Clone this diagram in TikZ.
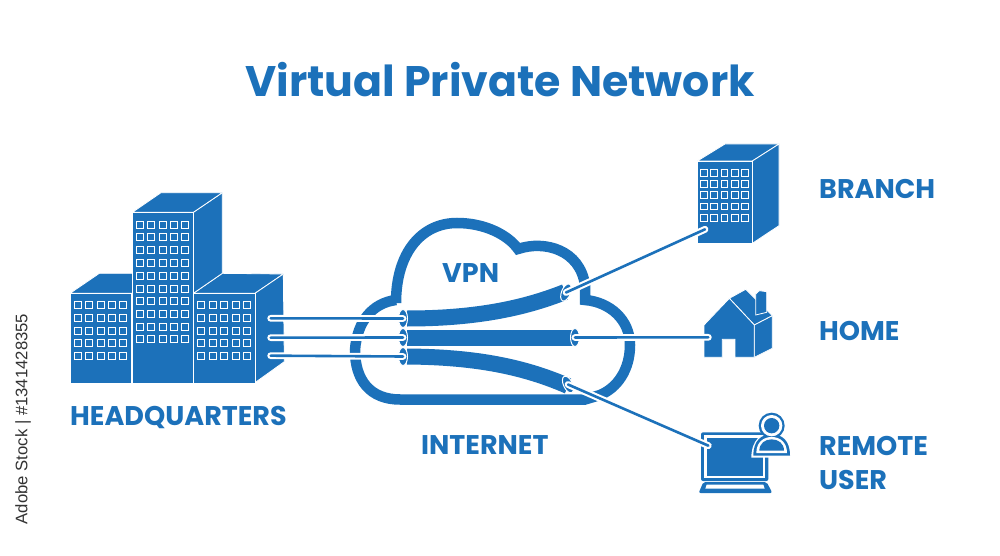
\documentclass[tikz,border=0pt]{standalone}
\usepackage{fontspec}
\setmainfont{Poppins}
\newfontfamily\sidefont{Liberation Sans}
\usetikzlibrary{shapes.geometric}
\definecolor{vpnblue}{HTML}{1C71BA}
\definecolor{sidegrey}{HTML}{333333}
\tikzset{
  solidpart/.style={fill=vpnblue,draw=white,line width=0.8pt,line join=miter},
  winbox/.style={draw=white,line width=1pt,fill=none},
  labeltext/.style={text=vpnblue,font=\bfseries\fontsize{27}{27}\selectfont,inner sep=0pt},
  cloudline/.style={draw=vpnblue,line width=10.5pt,line join=miter},
  tube/.style={draw=vpnblue,line width=16pt},
  capnode/.style={ellipse,fill=vpnblue,draw=white,line width=1pt,minimum width=9pt,minimum height=18pt,inner sep=0pt},
  cable/.style={draw=white,double=vpnblue,line width=2.1pt,double distance=2.6pt,line cap=round},
}
\newcommand{\winrow}[4]{% x0, pitch, y, half size
  \foreach \i in {0,...,4}{\draw[winbox] ({#1+\i*#2-#4},{#3-#4}) rectangle ({#1+\i*#2+#4},{#3+#4});}}
\begin{document}
\begin{tikzpicture}[x=1pt,y=-1pt]
\useasboundingbox (0,0) rectangle (1000,556);
\fill[white] (0,0) rectangle (1000,556);

\node[text=vpnblue,font=\bfseries\fontsize{42.7}{43}\selectfont,inner sep=0pt] (title) at (500,80) {Virtual Private Network};
\node[text=sidegrey,font=\sidefont\fontsize{16.7}{17}\selectfont,rotate=90,inner sep=0pt] (side) at (23,419) {Adobe Stock | \#1341428355};

% cloud
\draw[cloudline] (396,303)
  .. controls (396,252) and (422,223) .. (457,223)
  .. controls (485,223) and (508,235) .. (518,249)
  .. controls (545,240) and (580,250) .. (585,285)
  -- (585,300)
  .. controls (610,302) and (630,320) .. (630,345)
  .. controls (630,370) and (617,388) .. (600,395)
  -- (585,399.5) -- (400,399.5)
  .. controls (370,399.5) and (355,380) .. (355,350)
  .. controls (357,322) and (372,303) .. (396,300);

% tubes
\draw[tube] (407,318.5) .. controls (470,318.5) and (520,310) .. (565,292);
\draw[tube] (407,337.5) -- (574,337.5);
\draw[tube] (407,356.5) .. controls (470,357) and (520,365) .. (568,386);

% tube caps
\node[capnode] (capLa) at (403,318.5) {};
\node[capnode] (capLb) at (403,337.5) {};
\node[capnode] (capLc) at (403,356.5) {};
\node[capnode,rotate=-22] (capT) at (566,292.5) {};
\node[capnode] (capM) at (575,337.5) {};
\node[capnode,rotate=25] (capB) at (568,384.5) {};

% headquarters
\begin{scope}[shift={(50,180)},scale=1/3]
  \draw[solidpart] (60,340) -- (148,280) -- (260,280) -- (260,340) -- cycle;
  \draw[solidpart] (430,340) -- (517,280) -- (700,282) -- (615,340) -- cycle;
  \draw[solidpart] (615,340) -- (700,282) -- (703,545) -- (615,608) -- cycle;
  \draw[solidpart] (430,97) -- (517,38) -- (517,280) -- (430,340) -- cycle;
  \draw[solidpart] (247,97) -- (333,38) -- (517,38) -- (430,97) -- cycle;
  \draw[solidpart] (60,340) rectangle (245,610);
  \draw[solidpart] (430,340) rectangle (615,610);
  \draw[solidpart] (247,97) rectangle (430,610);
  \foreach \r in {375,413,452,490,528}{\winrow{84}{34}{\r}{10.5}}
  \foreach \r in {375,413,452,490,528}{\winrow{453}{34.5}{\r}{10.5}}
  \foreach \r in {134,172,210,249,287,326,364,402,440,478}{\winrow{270}{33.75}{\r}{10.5}}
  \coordinate (hqA) at (662,415);
  \coordinate (hqB) at (662,473);
  \coordinate (hqC) at (662,527);
\end{scope}

% branch
\begin{scope}[shift={(680,135)},scale=1/3]
  \draw[solidpart] (52,78) -- (135,27) -- (297,27) -- (217,78) -- cycle;
  \draw[solidpart] (217,78) -- (297,27) -- (297,272) -- (217,325) -- cycle;
  \draw[solidpart] (52,78) rectangle (217,325);
  \foreach \r in {115,148,181,215,250}{\winrow{72}{30.8}{\r}{10}}
  \coordinate (branchEnd) at (75,283);
\end{scope}

% home
\begin{scope}[shift={(690,280)},scale=1/3]
  \draw[solidpart] (118,55) -- (167,28) -- (247,107) -- (193,135) -- cycle;
  \draw[solidpart] (193,135) -- (247,107) -- (247,205) -- (193,232) -- cycle;
  \draw[solidpart] (42,135) -- (118,55) -- (193,135) -- (193,232) -- (135,232) -- (135,178) -- (97,178) -- (97,232) -- (42,232) -- cycle;
  \draw[solidpart] (197,105) -- (197,42) -- (208,32) -- (230,35) -- (230,97) -- cycle;
  \coordinate (homeEnd) at (55,172);
\end{scope}

% remote user
\begin{scope}[shift={(690,405)},scale=1/3]
  \fill[vpnblue,rounded corners=2pt] (33,82) rectangle (235,228);
  \fill[white] (42,91) rectangle (226,220);
  \fill[vpnblue] (50,98) rectangle (220,213);
  \fill[vpnblue,rounded corners=2pt] (40,231) -- (230,231) -- (247,264) -- (26,264) -- cycle;
  \fill[white] (50,239) -- (220,239) -- (224,251) -- (46,251) -- cycle;
  % person
  \fill[white] (184,158) .. controls (184,105) and (215,82) .. (245,82) .. controls (275,82) and (306,105) .. (306,158) -- cycle;
  \fill[vpnblue] (190,152) .. controls (190,105) and (215,88) .. (245,88) .. controls (275,88) and (300,105) .. (300,152) -- cycle;
  \fill[vpnblue] (245,62) circle (39);
  \fill[white] (245,62) circle (32);
  \fill[vpnblue] (245,62) circle (23);
  \fill[white] (199,144) .. controls (199,112) and (220,96) .. (245,96) .. controls (270,96) and (291,112) .. (291,144) -- cycle;
  \fill[vpnblue] (208,137) .. controls (208,115) and (225,103) .. (245,103) .. controls (265,103) and (282,115) .. (282,137) -- cycle;
  \coordinate (userEnd) at (55,122);
\end{scope}

% connectors
\draw[cable] (hqA) -- (capLa.center);
\draw[cable] (hqB) -- (capLb.center);
\draw[cable] (hqC) -- (capLc.center);
\draw[cable] (capT.center) -- (branchEnd);
\draw[cable] (capM.center) -- (homeEnd);
\draw[cable] (capB.center) -- (userEnd);

% labels
\node[labeltext,anchor=west] (lvpn) at (442,273) {VPN};
\node[labeltext,anchor=west] (lhq) at (70,418) {HEADQUARTERS};
\node[labeltext,anchor=west] (lnet) at (421,445) {INTERNET};
\node[labeltext,anchor=west] (lbr) at (819,189) {BRANCH};
\node[labeltext,anchor=west] (lho) at (819,331) {HOME};
\node[labeltext,anchor=west] (lre) at (819,446) {REMOTE};
\node[labeltext,anchor=west] (lus) at (819,480) {USER};
\end{tikzpicture}
\end{document}
